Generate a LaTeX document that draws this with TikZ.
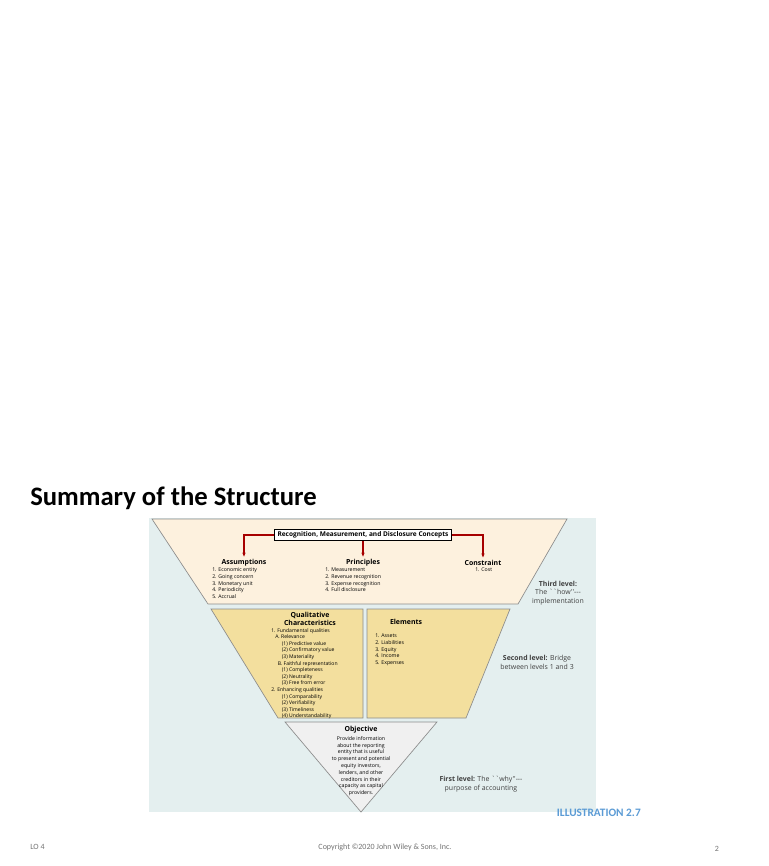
\documentclass[tikz,border=0pt]{standalone}
\usepackage{fontspec}
\usetikzlibrary{arrows.meta}
\setmainfont{Carlito}
\newfontfamily\dfont{Open Sans}
\begin{document}
\begin{tikzpicture}[x=0.75pt,y=-0.75pt,
  head/.style={font=\dfont\fontsize{5.2}{6}\selectfont\bfseries,inner sep=0pt,align=center},
  item/.style={font=\dfont\fontsize{3.9}{5.1}\selectfont,inner sep=0pt,align=left},
  citem/.style={font=\dfont\fontsize{3.9}{5.1}\selectfont,inner sep=0pt,align=center},
  lvl/.style={font=\dfont\fontsize{5.2}{6.6}\selectfont,inner sep=0pt,align=center,text=black!75},
  arr/.style={-{Stealth[length=3pt,width=2.5pt]},draw=red!65!black,line width=0.8pt},
  foot/.style={font=\fontsize{6}{7}\selectfont,text=black!55,inner sep=0pt}]
\useasboundingbox (0,0) rectangle (768,866);
\fill[white] (0,0) rectangle (768,866);
\node[anchor=west,inner sep=0pt,font=\fontsize{20}{24}\selectfont\bfseries] (title) at (30,498) {Summary of the Structure};
\fill[fill={rgb,255:red,228;green,239;blue,239}] (149,518) rectangle (596,812);
% top trapezoid
\draw[fill={rgb,255:red,253;green,241;blue,222},draw=black!45,line width=0.5pt] (152,519) -- (567,519) -- (518,604) -- (208,604) -- cycle;
\node[draw=black,line width=0.7pt,fill=white,inner xsep=2pt,inner ysep=2pt,font=\dfont\fontsize{4.9}{6}\selectfont\bfseries] (rmd) at (363,535) {Recognition, Measurement, and Disclosure Concepts};
\node[head] (ass) at (244,563) {Assumptions};
\node[head] (pri) at (363,563) {Principles};
\node[head] (con) at (483,563) {Constraint};
\draw[arr] (rmd.west) -| ([yshift=2pt]ass.north);
\draw[arr] (rmd.south) -- ([yshift=2pt]pri.north);
\draw[arr] (rmd.east) -| ([yshift=2pt]con.north);
\node[item,anchor=north west] (assl) at (212,567.5) {1. Economic entity\\2. Going concern\\3. Monetary unit\\4. Periodicity\\5. Accrual};
\node[item,anchor=north west] (pril) at (325,567.5) {1. Measurement\\2. Revenue recognition\\3. Expense recognition\\4. Full disclosure};
\node[item,anchor=north west] (conl) at (475,567.5) {1. Cost};
\node[lvl] (l3) at (558,593) {\textbf{Third level:}\\The ``how''---\\implementation};
% second level
\draw[fill={rgb,255:red,243;green,223;blue,158},draw=black!45,line width=0.5pt] (211,609) -- (363,609) -- (363,718) -- (278,718) -- cycle;
\draw[fill={rgb,255:red,243;green,223;blue,158},draw=black!45,line width=0.5pt] (367,609) -- (510,609) -- (466,718) -- (367,718) -- cycle;
\node[head,anchor=north] (qc) at (310,612) {Qualitative\\Characteristics};
\node[item,anchor=north west,font=\dfont\fontsize{3.8}{4.95}\selectfont] (qcl) at (271,628) {1. Fundamental qualities\\
\hspace*{3pt}A. Relevance\\
\hspace*{8pt}(1) Predictive value\\
\hspace*{8pt}(2) Confirmatory value\\
\hspace*{8pt}(3) Materiality\\
\hspace*{5pt}B. Faithful representation\\
\hspace*{8pt}(1) Completeness\\
\hspace*{8pt}(2) Neutrality\\
\hspace*{8pt}(3) Free from error\\
2. Enhancing qualities\\
\hspace*{8pt}(1) Comparability\\
\hspace*{8pt}(2) Verifiability\\
\hspace*{8pt}(3) Timeliness\\
\hspace*{8pt}(4) Understandability};
\node[head] (el) at (406,622) {Elements};
\node[item,anchor=north west] (ell) at (375,633.5) {1. Assets\\2. Liabilities\\3. Equity\\4. Income\\5. Expenses};
\node[lvl] (l2) at (537,662) {\textbf{Second level:} Bridge\\between levels 1 and 3};
% first level
\draw[fill={rgb,255:red,240;green,240;blue,240},draw=black!45,line width=0.5pt] (285,722) -- (437,722) -- (361,812) -- cycle;
\node[head] (obj) at (361,730) {Objective};
\node[citem,anchor=north] (objl) at (361,736) {Provide information\\about the reporting\\entity that is useful\\to present and potential\\equity investors,\\lenders, and other\\creditors in their\\capacity as capital\\providers.};
\node[lvl] (l1) at (481,784) {\textbf{First level:} The ``why''---\\purpose of accounting};
\node[anchor=east,inner sep=0pt,font=\fontsize{8.5}{10}\selectfont\bfseries,text={rgb,255:red,91;green,155;blue,213}] (ill) at (641,813) {ILLUSTRATION 2.7};
\node[foot,anchor=west] (lo) at (30,847) {LO 4};
\node[foot] (copy) at (385,847) {Copyright ©2020 John Wiley \& Sons, Inc.};
\node[foot] (pg) at (717,849) {2};
\end{tikzpicture}
\end{document}
